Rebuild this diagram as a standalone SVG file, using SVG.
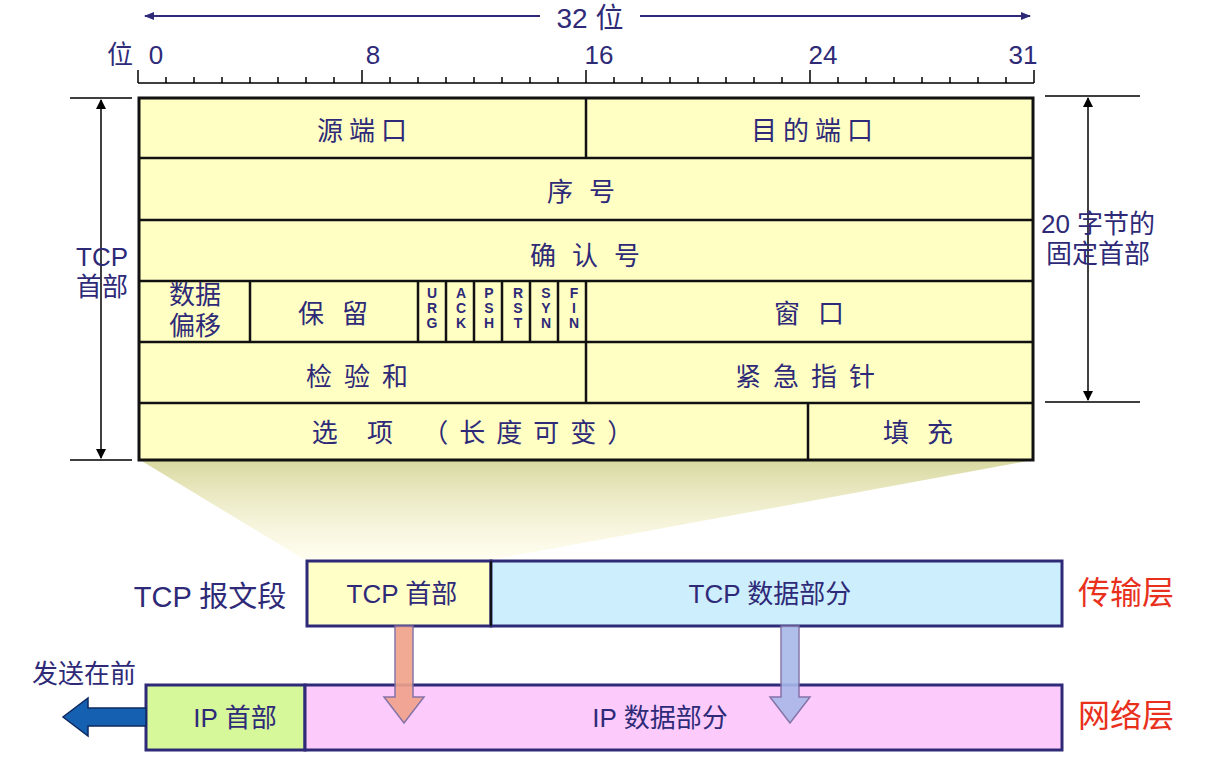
<svg xmlns="http://www.w3.org/2000/svg" width="1211" height="766" viewBox="0 0 1211 766">
<style>
text{font-family:"Liberation Sans","Noto Sans CJK SC",sans-serif;fill:#2e2a78;text-anchor:middle}
.c{font-size:26px}
.w{letter-spacing:6px}
.f{font-size:14px;font-weight:bold}
.b{stroke:#111;stroke-width:2.5;fill:none}
.n{stroke:#2e2a78;stroke-width:2;fill:none}
.k{stroke:#000;stroke-width:1.5;fill:none}
.r{fill:#e8301c;font-size:32px}
</style>
<defs>
<marker id="a" markerWidth="10" markerHeight="10" refX="9" refY="5" orient="auto-start-reverse" markerUnits="userSpaceOnUse"><path d="M0,1 L10,5 L0,9 Z" fill="#2e2a78"/></marker>
<marker id="ak" markerWidth="10" markerHeight="14" refX="9" refY="7" orient="auto-start-reverse" markerUnits="userSpaceOnUse"><path d="M0,2 L10,7 L0,12 Z" fill="#000"/></marker>
<linearGradient id="sh" x1="0" y1="0" x2="0" y2="1"><stop offset="0" stop-color="#d8d8a0"/><stop offset="1" stop-color="#fffbe0" stop-opacity="0.5"/></linearGradient>
</defs>
<rect width="1211" height="766" fill="#fff"/>
<polygon points="140,460 1033,460 490,560 305,560" fill="url(#sh)"/>
<g id="ruler">
<line class="n" x1="145" y1="16" x2="540" y2="16" marker-start="url(#a)"/>
<line class="n" x1="640" y1="16" x2="1030" y2="16" marker-end="url(#a)"/>
<text x="590" y="28" style="font-size:28px">32 位</text>
<text x="120" y="64" class="c">位</text>
<text x="156" y="64" class="c">0</text>
<text x="373" y="64" class="c">8</text>
<text x="599" y="64" class="c">16</text>
<text x="823" y="64" class="c">24</text>
<text x="1023" y="64" class="c">31</text>
<path class="k" d="M138,83 H1034 M138,70 V83 M166,77 V83 M194,77 V83 M222,77 V83 M250,77 V83 M278,77 V83 M306,77 V83 M334,77 V83 M362,70 V83 M390,77 V83 M418,77 V83 M446,77 V83 M474,77 V83 M502,77 V83 M530,77 V83 M558,77 V83 M586,70 V83 M614,77 V83 M642,77 V83 M670,77 V83 M698,77 V83 M726,77 V83 M754,77 V83 M782,77 V83 M810,70 V83 M838,77 V83 M866,77 V83 M894,77 V83 M922,77 V83 M950,77 V83 M978,77 V83 M1006,77 V83 M1034,70 V83"/>
</g>
<g id="header">
<rect x="139" y="98" width="894" height="362" fill="#ffffc4" stroke="#111" stroke-width="3"/>
<path class="b" d="M139,158 H1033 M139,220 H1033 M139,281 H1033 M139,342 H1033 M139,403 H1033 M586,98 V158 M586,281 V403 M808,403 V460 M250,281 V342 M418,281 V342 M446,281 V342 M474,281 V342 M502,281 V342 M530,281 V342 M558,281 V342"/>
<text x="365" y="140" class="c w">源端口</text>
<text x="815" y="140" class="c w">目的端口</text>
<text x="589" y="201" class="c" style="letter-spacing:16px">序号</text>
<text x="593" y="265" class="c" style="letter-spacing:16px">确认号</text>
<text x="195" y="304" class="c">数据</text>
<text x="195" y="335" class="c">偏移</text>
<text x="342" y="323" class="c" style="letter-spacing:18px">保留</text>
<g class="f">
<text x="432" y="298">U</text><text x="432" y="313">R</text><text x="432" y="328">G</text>
<text x="461" y="298">A</text><text x="461" y="313">C</text><text x="461" y="328">K</text>
<text x="489" y="298">P</text><text x="489" y="313">S</text><text x="489" y="328">H</text>
<text x="518" y="298">R</text><text x="518" y="313">S</text><text x="518" y="328">T</text>
<text x="546" y="298">S</text><text x="546" y="313">Y</text><text x="546" y="328">N</text>
<text x="574" y="298">F</text><text x="574" y="313">I</text><text x="574" y="328">N</text>
</g>
<text x="818" y="323" class="c" style="letter-spacing:18px">窗口</text>
<text x="363" y="386" class="c" style="letter-spacing:12px">检验和</text>
<text x="811" y="386" class="c" style="letter-spacing:12px">紧急指针</text>
<text x="478" y="442" class="c" style="letter-spacing:11px">选 项 （长度可变）</text>
<text x="927" y="442" class="c" style="letter-spacing:18px">填充</text>
</g>
<g id="dims">
<path class="k" d="M70,98 H132 M70,460 H132 M1045,96 H1140 M1045,402 H1140"/>
<line class="k" x1="101" y1="100" x2="101" y2="458" marker-start="url(#ak)" marker-end="url(#ak)"/>
<line class="k" x1="1088" y1="98" x2="1088" y2="400" marker-start="url(#ak)" marker-end="url(#ak)"/>
<text x="102" y="266" class="c">TCP</text>
<text x="102" y="296" class="c">首部</text>
<text x="1098" y="233" class="c">20 字节的</text>
<text x="1098" y="263" class="c">固定首部</text>
</g>
<g id="tcpseg">
<rect x="307" y="561" width="184" height="65" fill="#ffffc8" stroke="#2e2a78" stroke-width="3"/>
<rect x="491" y="561" width="571" height="65" fill="#cdeefc" stroke="#2e2a78" stroke-width="3"/>
<line x1="491" y1="561" x2="491" y2="626" stroke="#111" stroke-width="2"/>
<text x="210" y="607" class="c" style="font-size:29px">TCP 报文段</text>
<text x="402" y="603" class="c">TCP 首部</text>
<text x="770" y="603" class="c">TCP 数据部分</text>
<text x="1126" y="604" class="r">传输层</text>
</g>
<g id="ipdg">
<rect x="146" y="685" width="159" height="65" fill="#d6f79a" stroke="#2e2a78" stroke-width="3"/>
<rect x="305" y="685" width="757" height="65" fill="#fccbfc" stroke="#2e2a78" stroke-width="3"/>
<text x="235" y="727" class="c">IP 首部</text>
<text x="660" y="727" class="c">IP 数据部分</text>
<text x="1126" y="727" class="r">网络层</text>
<text x="84" y="683" class="c">发送在前</text>
</g>
<g id="connectors">
<path d="M395,626 H413 V697 H424 L404,723 L384,697 H395 Z" fill="#f0a38a" stroke="#7a6aa0" stroke-width="1.5" opacity="0.9"/>
<path d="M781,626 H799 V697 H810 L790,723 L770,697 H781 Z" fill="#a8b8e8" stroke="#7a6aa0" stroke-width="1.5" opacity="0.9"/>
<path d="M146,708 H88 V698 L63,717 L88,736 V726 H146 Z" fill="#1560b0" stroke="#0d2a60" stroke-width="1.5"/>
</g>
</svg>
